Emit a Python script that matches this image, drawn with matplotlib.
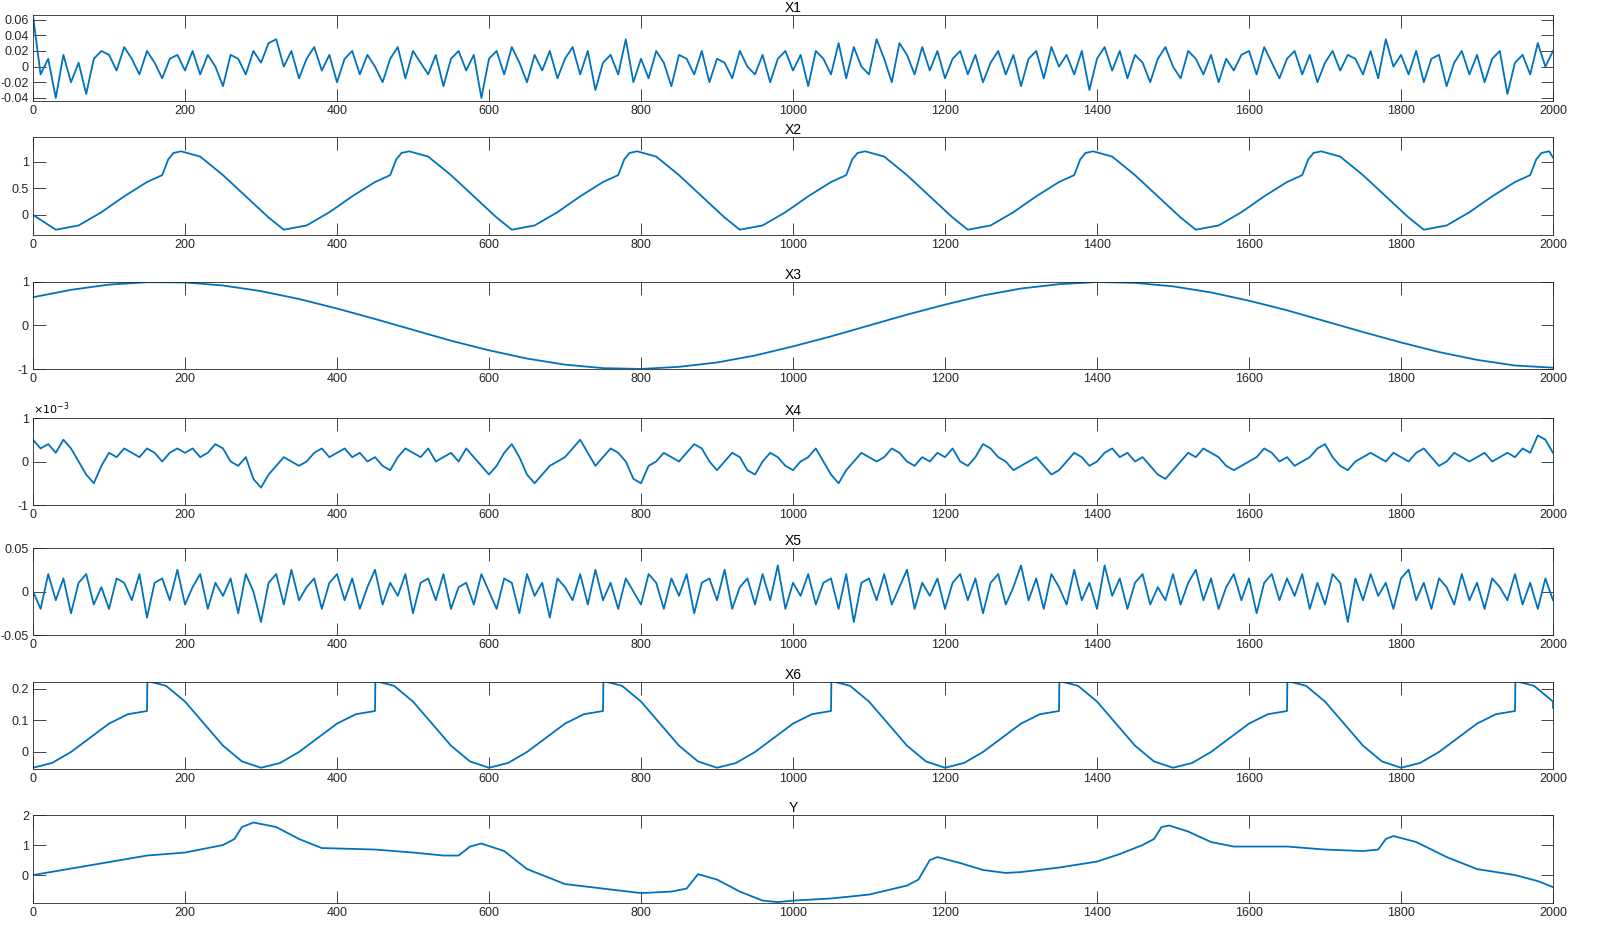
import matplotlib
matplotlib.use("Agg")
import matplotlib.pyplot as plt
import numpy as np

plt.rcParams['font.family'] = ['Liberation Sans', 'DejaVu Sans']

step = 10
x1 = [0.065,-0.01,0.01,-0.04,0.015,-0.02,0.005,-0.035,0.01,0.02,
0.015,-0.005,0.025,0.01,-0.01,0.02,0.005,-0.015,0.01,0.015,
-0.005,0.02,-0.01,0.015,0.0,-0.025,0.015,0.01,-0.01,0.02,
0.005,0.03,0.035,0.0,0.02,-0.015,0.01,0.025,-0.005,0.015,
-0.02,0.01,0.02,-0.01,0.015,0.0,-0.02,0.01,0.025,-0.015,
0.02,0.005,-0.01,0.015,-0.025,0.01,0.02,-0.005,0.015,-0.04,
0.01,0.02,-0.01,0.025,0.005,-0.02,0.015,-0.005,0.02,-0.015,
0.01,0.025,-0.01,0.02,-0.03,0.005,0.015,-0.01,0.035,-0.02,
0.01,-0.015,0.02,0.005,-0.025,0.015,0.01,-0.01,0.02,-0.02,
0.01,0.005,-0.015,0.02,0.0,-0.01,0.015,-0.02,0.01,0.02,
-0.005,0.015,-0.025,0.02,0.01,-0.01,0.03,-0.015,0.025,0.0,
-0.01,0.035,0.01,-0.02,0.03,0.015,-0.01,0.025,-0.005,0.02,
-0.015,0.01,0.02,-0.01,0.015,-0.02,0.005,0.02,-0.01,0.015,
-0.025,0.01,0.02,-0.015,0.025,0.0,0.015,-0.01,0.02,-0.03,
0.01,0.025,-0.005,0.02,-0.015,0.015,0.005,-0.02,0.01,0.025,
0.0,-0.015,0.02,0.01,-0.01,0.015,-0.02,0.01,-0.005,0.015,
0.02,-0.01,0.025,0.005,-0.015,0.01,0.02,-0.01,0.015,-0.02,
0.005,0.02,-0.005,0.015,0.01,-0.01,0.02,-0.015,0.035,0.0,
0.015,-0.01,0.02,-0.02,0.01,0.015,-0.025,0.005,0.02,-0.01,
0.015,-0.02,0.01,0.02,-0.035,0.005,0.015,-0.01,0.03,0.0,
0.02]
x5 = [0.0,-0.02,0.02,-0.01,0.015,-0.025,0.01,0.02,-0.015,0.005,
-0.02,0.015,0.01,-0.01,0.02,-0.03,0.01,0.015,-0.01,0.025,
-0.015,0.005,0.02,-0.02,0.01,-0.005,0.015,-0.025,0.02,0.0,
-0.035,0.01,0.02,-0.015,0.025,-0.01,0.005,0.015,-0.02,0.01,
0.02,-0.01,0.015,-0.02,0.005,0.025,-0.015,0.01,-0.005,0.02,
-0.025,0.01,0.015,-0.01,0.02,-0.02,0.005,0.01,-0.015,0.02,
0.0,-0.02,0.015,0.01,-0.025,0.02,-0.005,0.01,-0.03,0.015,
0.005,-0.01,0.02,-0.015,0.025,-0.01,0.01,-0.02,0.015,0.0,
-0.015,0.02,0.01,-0.02,0.015,-0.005,0.02,-0.025,0.01,0.015,
-0.01,0.025,-0.02,0.005,0.015,-0.015,0.02,-0.01,0.03,-0.02,
0.01,-0.005,0.02,-0.015,0.01,0.015,-0.02,0.02,-0.035,0.01,
0.015,-0.01,0.02,-0.015,0.005,0.025,-0.02,0.01,-0.005,0.015,
-0.02,0.01,0.02,-0.01,0.015,-0.025,0.01,0.02,-0.015,0.005,
0.03,-0.01,0.015,-0.02,0.02,0.005,-0.015,0.025,-0.01,0.01,
-0.02,0.03,-0.005,0.015,-0.02,0.01,0.02,-0.015,0.005,-0.01,
0.02,-0.015,0.01,0.025,-0.01,0.015,-0.02,0.005,0.02,-0.01,
0.015,-0.025,0.01,0.02,-0.01,0.015,-0.005,0.02,-0.02,0.01,
-0.015,0.02,0.01,-0.035,0.015,-0.01,0.02,-0.005,0.01,-0.02,
0.015,0.025,-0.01,0.01,-0.02,0.015,0.005,-0.015,0.02,-0.01,
0.01,-0.02,0.015,0.005,-0.01,0.02,-0.015,0.01,-0.02,0.015,
-0.01]
x4_e3 = [0.5,0.3,0.4,0.2,0.5,0.3,0.0,-0.3,-0.5,-0.1,
0.2,0.1,0.3,0.2,0.1,0.3,0.2,0.0,0.2,0.3,
0.2,0.3,0.1,0.2,0.4,0.3,0.0,-0.1,0.1,-0.4,
-0.6,-0.3,-0.1,0.1,0.0,-0.1,0.0,0.2,0.3,0.1,
0.2,0.3,0.1,0.2,0.0,0.1,-0.1,-0.2,0.1,0.3,
0.2,0.1,0.3,0.0,0.1,0.2,0.0,0.3,0.1,-0.1,
-0.3,-0.1,0.2,0.4,0.1,-0.3,-0.5,-0.3,-0.1,0.0,
0.1,0.3,0.5,0.2,-0.1,0.1,0.3,0.2,0.0,-0.4,
-0.5,-0.1,0.0,0.2,0.1,0.0,0.2,0.4,0.3,0.0,
-0.2,0.0,0.2,0.1,-0.2,-0.3,0.0,0.2,0.1,-0.1,
-0.2,0.0,0.1,0.3,0.0,-0.3,-0.5,-0.2,0.0,0.2,
0.1,0.0,0.1,0.3,0.2,0.0,-0.1,0.1,0.0,0.2,
0.1,0.3,0.0,-0.1,0.1,0.4,0.3,0.1,0.0,-0.2,
-0.1,0.0,0.1,-0.1,-0.3,-0.2,0.0,0.2,0.1,-0.1,
0.0,0.2,0.3,0.1,0.2,0.0,0.1,-0.1,-0.3,-0.4,
-0.2,0.0,0.2,0.1,0.3,0.2,0.1,-0.1,-0.2,-0.1,
0.0,0.1,0.3,0.2,0.0,0.1,-0.1,0.0,0.1,0.3,
0.4,0.1,-0.1,-0.2,0.0,0.1,0.2,0.1,0.0,0.2,
0.1,0.0,0.2,0.3,0.1,-0.1,0.0,0.2,0.1,0.0,
0.1,0.2,0.0,0.1,0.2,0.1,0.3,0.2,0.6,0.5,
0.2]

x3_x = list(range(0, 2001, 50))
x3 = [0.65,0.82,0.94,0.995,0.99,0.92,0.79,0.61,0.39,0.15,-0.10,-0.35,-0.57,-0.76,-0.90,-0.98,-0.999,
      -0.95,-0.85,-0.69,-0.48,-0.25,0.0,0.25,0.48,0.69,0.85,0.95,0.999,0.98,0.90,0.76,0.57,0.35,0.10,
      -0.15,-0.39,-0.61,-0.79,-0.92,-0.97]

x2_cycle_off = [30,60,90,120,150,170,178,185,195,220,250,280,310,330]
x2_cycle_val = [-0.28,-0.2,0.05,0.35,0.62,0.75,1.05,1.17,1.2,1.1,0.75,0.35,-0.05,-0.28]
x6_cycle_off = [0,25,50,75,100,125,150,150.5,175,200,225,250,275]
x6_cycle_val = [-0.05,-0.035,0.0,0.045,0.09,0.12,0.13,0.225,0.21,0.16,0.09,0.02,-0.03]

y_x = [0,150,200,250,265,275,290,320,350,380,450,500,540,560,575,590,620,650,700,750,800,840,860,875,900,930,960,980,
       1000,1050,1100,1150,1165,1180,1190,1220,1250,1280,1300,1350,1400,1430,1460,1475,1485,1495,1520,1550,1580,1650,
       1700,1750,1770,1780,1790,1820,1860,1900,1950,1980,2000]
y_v = [0.0,0.65,0.75,1.0,1.2,1.6,1.75,1.6,1.2,0.9,0.85,0.75,0.65,0.65,0.95,1.05,0.8,0.2,-0.3,-0.45,-0.6,-0.55,-0.45,0.03,
       -0.15,-0.55,-0.85,-0.9,-0.85,-0.78,-0.65,-0.35,-0.15,0.5,0.6,0.4,0.17,0.07,0.1,0.25,0.45,0.7,1.0,1.2,1.6,1.65,
       1.45,1.1,0.95,0.95,0.85,0.8,0.85,1.2,1.3,1.1,0.6,0.2,0.0,-0.2,-0.4]

# build repeated cycles from the read cycle shape
x2_x = [0]; x2 = [0.0]
x6_x = []; x6 = []
for k in range(7):
    for o, v in zip(x2_cycle_off, x2_cycle_val):
        if k * 300 + o <= 2000:
            x2_x.append(k * 300 + o); x2.append(v)
    for o, v in zip(x6_cycle_off, x6_cycle_val):
        if k * 300 + o <= 2000:
            x6_x.append(k * 300 + o); x6.append(v)
x2_x.append(2000); x2.append(1.08)
x6_x.append(2000); x6.append(0.14)

grid = list(range(0, 2001, step))
panels = [
    ("X1", grid, x1, (-0.044, 0.066), [-0.04, -0.02, 0, 0.02, 0.04, 0.06], ['-0.04','-0.02','0','0.02','0.04','0.06']),
    ("X2", x2_x, x2, (-0.38, 1.47), [0, 0.5, 1], ['0','0.5','1']),
    ("X3", x3_x, x3, (-1, 1), [-1, 0, 1], ['-1','0','1']),
    ("X4", grid, [v * 1e-3 for v in x4_e3], (-1e-3, 1e-3), [-1e-3, 0, 1e-3], ['-1','0','1']),
    ("X5", grid, x5, (-0.05, 0.05), [-0.05, 0, 0.05], ['-0.05','0','0.05']),
    ("X6", x6_x, x6, (-0.054, 0.222), [0, 0.1, 0.2], ['0','0.1','0.2']),
    ("Y", y_x, y_v, (-0.93, 2.0), [0, 1, 2], ['0','1','2']),
]

fig = plt.figure(figsize=(16, 9.38), dpi=100)
H = 938
tops = [15, 137, 282, 418, 548, 682, 815]
bots = [101, 235, 369, 505, 635, 769, 903]
for (title, xs, ys, yl, yt, ytl), t, b in zip(panels, tops, bots):
    ax = fig.add_axes([33/1600, 1 - b/H, 1520/1600, (b - t)/H])
    ax.plot(xs, ys, color='#0072BD', lw=1.3)
    ax.set_xlim(0, 2000)
    ax.set_ylim(*yl)
    ax.set_xticks(range(0, 2001, 200))
    ax.set_yticks(yt)
    ax.set_yticklabels(ytl)
    ax.tick_params(direction='in', top=True, right=True, length=9, width=0.6, labelsize=9, pad=3, colors='#262626')
    for s in ax.spines.values():
        s.set_linewidth(0.6); s.set_color('#262626')
    ax.set_title(title, fontsize=10, pad=2, color='#000000')
    if title == "X4":
        ax.text(0, 1.01, r'$\times10^{-3}$', transform=ax.transAxes, fontsize=8, va='bottom', ha='left')

fig.savefig("out.png", dpi=100)
